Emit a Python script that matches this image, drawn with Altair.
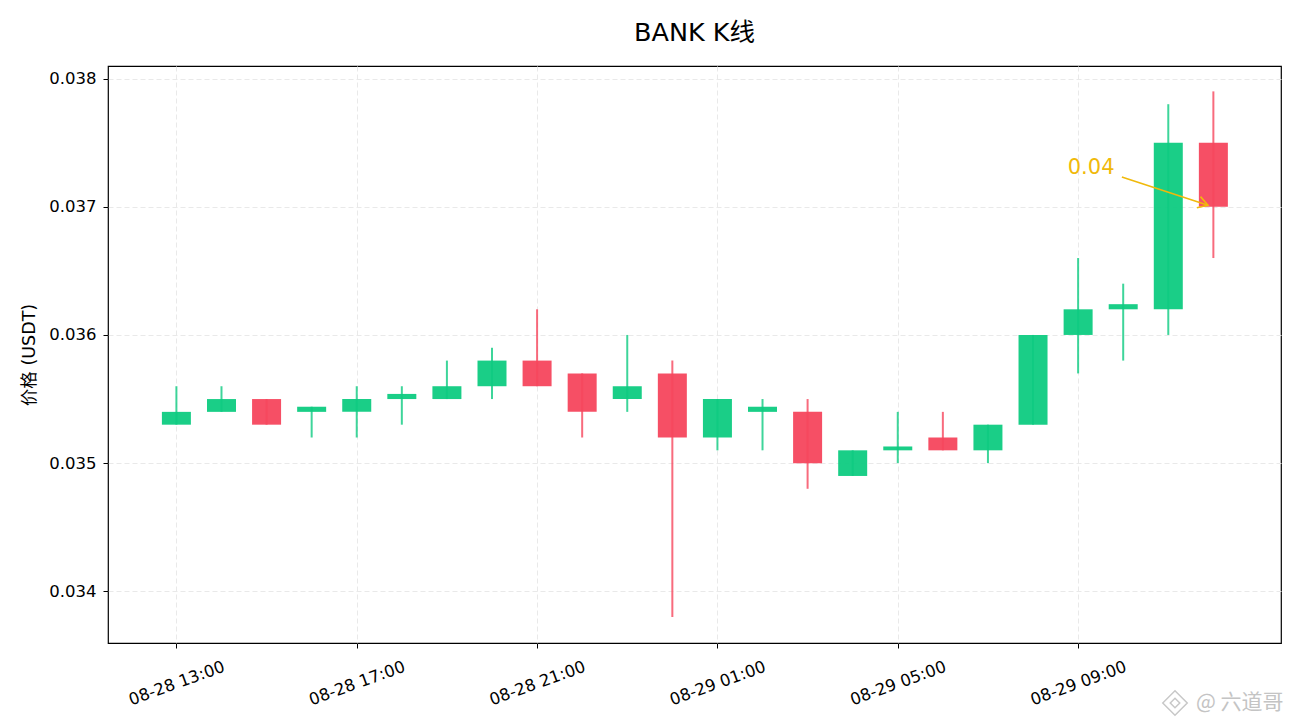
import altair as alt
import pandas as pd

# ---- data ----
times = ["08-28 13:00", "08-28 14:00", "08-28 15:00", "08-28 16:00", "08-28 17:00",
         "08-28 18:00", "08-28 19:00", "08-28 20:00", "08-28 21:00", "08-28 22:00",
         "08-28 23:00", "08-29 00:00", "08-29 01:00", "08-29 02:00", "08-29 03:00",
         "08-29 04:00", "08-29 05:00", "08-29 06:00", "08-29 07:00", "08-29 08:00",
         "08-29 09:00", "08-29 10:00", "08-29 11:00", "08-29 12:00"]
opens = [0.0353, 0.0354, 0.0355, 0.0354, 0.0354, 0.0355, 0.0355, 0.0356, 0.0358, 0.0357,
         0.0355, 0.0357, 0.0352, 0.0354, 0.0354, 0.0349, 0.0351, 0.0352, 0.0351, 0.0353,
         0.0360, 0.0362, 0.0362, 0.0375]
closes = [0.0354, 0.0355, 0.0353, 0.03544, 0.0355, 0.03554, 0.0356, 0.0358, 0.0356, 0.0354,
          0.0356, 0.0352, 0.0355, 0.03544, 0.0350, 0.0351, 0.03513, 0.0351, 0.0353, 0.0360,
          0.0362, 0.03624, 0.0375, 0.0370]
highs = [0.0356, 0.0356, 0.0355, 0.03544, 0.0356, 0.0356, 0.0358, 0.0359, 0.0362, 0.0357,
         0.0360, 0.0358, 0.0355, 0.0355, 0.0355, 0.0351, 0.0354, 0.0354, 0.0353, 0.0360,
         0.0366, 0.0364, 0.0378, 0.0379]
lows = [0.0353, 0.0354, 0.0353, 0.0352, 0.0352, 0.0353, 0.0355, 0.0355, 0.0356, 0.0352,
        0.0354, 0.0338, 0.0351, 0.0351, 0.0348, 0.0349, 0.0350, 0.0351, 0.0350, 0.0353,
        0.0357, 0.0358, 0.0360, 0.0366]

x_tick_index = [0, 4, 8, 12, 16, 20]
y_ticks = [0.034, 0.035, 0.036, 0.037, 0.038]

annot_text = "0.04"
annot_text_pos = (19.77, 0.037254)      # (hour index, price) of text anchor
annot_arrow_start = (20.97, 0.037232)
annot_arrow_end = (22.88, 0.037012)

GREEN = "#0ECB81"
RED = "#F6465D"
GOLD = "#F0B90B"
FONT = "DejaVu Sans, Noto Sans CJK SC"
CJK_FONT = "Noto Sans CJK SC"
Y_TITLE = "价格 (USDT)"

df = pd.DataFrame({
    "idx": list(range(len(times))),
    "time": times,
    "open": opens,
    "close": closes,
    "high": highs,
    "low": lows,
})
df["dir"] = ["up" if c >= o else "down" for o, c in zip(opens, closes)]

x_domain = [-1.517, 24.5]
y_domain = [0.033597, 0.038098]

label_expr = "[" + ",".join("'%s'" % t for t in times) + "][datum.value]"

color = alt.Color("dir:N", scale=alt.Scale(domain=["up", "down"], range=[GREEN, RED]), legend=None)
x_scale = alt.Scale(domain=x_domain, nice=False, zero=False, padding=0)
y_scale = alt.Scale(domain=y_domain, nice=False, zero=False, padding=0)

x_axis = alt.Axis(values=x_tick_index, labelExpr=label_expr, title=None,
                  labelAngle=-20, labelAlign="center", labelBaseline="middle",
                  labelPadding=35, tickSize=5, grid=True, labelFontSize=16.5)
y_axis = alt.Axis(values=y_ticks, format=".3f", title=Y_TITLE,
                  tickSize=5, labelPadding=7, grid=True, labelFontSize=16.5,
                  titleFontSize=17.5, titleFontWeight="normal",
                  titleX=-79, titleY=288.5, titleAngle=270,
                  titleAlign="center", titleBaseline="middle")


def X(field):
    return alt.X(field, scale=x_scale, axis=x_axis, title=None)


def Y(field):
    return alt.Y(field, scale=y_scale, axis=y_axis, title=Y_TITLE)


base = alt.Chart(df)

bodies = base.mark_bar(size=29, opacity=0.95).encode(
    x=X("idx:Q"), y=Y("open:Q"), y2="close:Q", color=color,
)

wicks = base.mark_rule(strokeWidth=2, opacity=0.8).encode(
    x=X("idx:Q"), y=Y("low:Q"), y2="high:Q", color=color,
)

ann_df = pd.DataFrame({
    "tx": [annot_text_pos[0]], "ty": [annot_text_pos[1]], "label": [annot_text],
    "x1": [annot_arrow_start[0]], "y1": [annot_arrow_start[1]],
    "x2": [annot_arrow_end[0]], "y2": [annot_arrow_end[1]],
})
ann = alt.Chart(ann_df)

arrow_line = ann.mark_rule(color=GOLD, strokeWidth=1.6).encode(
    x=X("x1:Q"), y=Y("y1:Q"), x2="x2:Q", y2="y2:Q",
)
arrow_head = ann.mark_point(shape="M -1 -0.6 L 0 0 L -1 0.6", filled=False, color=GOLD,
                            strokeWidth=1.6, size=380, angle=18, opacity=1).encode(
    x=X("x2:Q"), y=Y("y2:Q"),
)
ann_text = ann.mark_text(color=GOLD, fontSize=21, align="left", baseline="alphabetic",
                         font=FONT).encode(
    x=X("tx:Q"), y=Y("ty:Q"), text="label:N",
)

wm_df = pd.DataFrame({"t": ["@ 六道哥"]})
wm_text = alt.Chart(wm_df).mark_text(color="#c4c4c4", fontSize=21, align="left",
                                     baseline="middle", font=CJK_FONT).encode(
    x=alt.value(1088), y=alt.value(637), text="t:N")
wm_icon = alt.Chart(wm_df).mark_point(shape="diamond", filled=False, color="#c8c8c8",
                                      strokeWidth=1.5, size=600, opacity=1).encode(
    x=alt.value(1067), y=alt.value(637))
wm_icon2 = alt.Chart(wm_df).mark_point(shape="diamond", filled=False, color="#c8c8c8",
                                       strokeWidth=1.5, size=90, opacity=1).encode(
    x=alt.value(1067), y=alt.value(637))

chart = alt.layer(bodies, wicks, arrow_line, arrow_head, ann_text,
                  wm_icon, wm_icon2, wm_text).properties(
    width=1173, height=577,
    title=alt.TitleParams("BANK K线", fontSize=25.5, font=FONT, fontWeight="normal",
                          anchor="middle", offset=0, baseline="alphabetic", color="black"),
    padding={"left": 100, "top": 58, "right": 11, "bottom": 77},
    autosize=alt.AutoSizeParams(type="none"),
    background="white",
).configure_view(
    stroke="black", strokeWidth=1.2
).configure_axis(
    labelFont=FONT, titleFont=FONT, labelColor="black", titleColor="black",
    tickColor="black", domain=False, gridColor="#e9e9e9", gridDash=[5, 3], gridWidth=1,
)

chart.save("out.html", embed_options={"renderer": "svg", "actions": False})
